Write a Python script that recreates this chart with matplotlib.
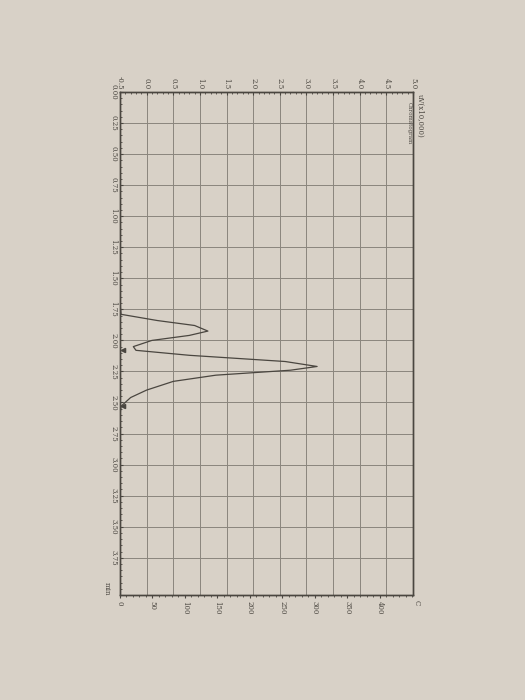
import numpy as np
import matplotlib.pyplot as plt

# chromatogram trace: retention time (min) vs signal (uV x10,000)
time_min = [1.70, 1.79, 1.84, 1.88, 1.925, 1.96, 2.00, 2.05, 2.08, 2.12, 2.17,
            2.21, 2.24, 2.28, 2.33, 2.40, 2.46, 2.53, 2.60]
signal = [-0.5, -0.48, 0.2, 0.9, 1.15, 0.8, 0.1, -0.25, -0.2, 0.8, 2.6,
          3.2, 2.7, 1.3, 0.5, 0.0, -0.3, -0.48, -0.5]
uv_ticks = [-0.5, 0.0, 0.5, 1.0, 1.5, 2.0, 2.5, 3.0, 3.5, 4.0, 4.5, 5.0]
time_ticks = [0.00, 0.25, 0.50, 0.75, 1.00, 1.25, 1.50, 1.75, 2.00, 2.25,
              2.50, 2.75, 3.00, 3.25, 3.50, 3.75]
temp_ticks = [0, 50, 100, 150, 200, 250, 300, 350, 400]
markers_t = [2.08, 2.53]

paper = '#d8d1c7'
ink = '#4a4640'
fig = plt.figure(figsize=(5.25, 7), dpi=100, facecolor=paper)
ax = fig.add_axes([120/525, 1-595/700, 293/525, 503/700], facecolor=paper)

# temperature axis along the bottom
ax2 = ax.twiny()
ax2.set_xlim(0, 451)
ax2.xaxis.set_ticks_position('bottom')
ax2.xaxis.set_label_position('bottom')
ax2.set_xticks(temp_ticks)
ax2.set_xticks(np.arange(0, 451, 10), minor=True)
ax2.set_xticklabels([str(v) for v in temp_ticks], rotation=-90, fontsize=5,
                    family='DejaVu Serif', color=ink)
ax2.tick_params(which='both', direction='out', colors=ink, length=2.5, pad=2)
ax2.tick_params(which='minor', length=1.5)
ax2.text(1.0, -0.01, 'C', transform=ax2.transAxes, rotation=-90, fontsize=5,
         family='DejaVu Serif', color=ink, ha='left', va='top')

ax.plot(signal, time_min, color=ink, lw=0.9)
for t in markers_t:
    ax.plot(-0.45, t, marker='<', ms=3, color=ink)

ax.set_xlim(-0.5, 5.0)
ax.set_ylim(4.05, 0)
ax.xaxis.tick_top()
ax.set_xticks(uv_ticks)
ax.set_yticks(time_ticks)
ax.set_xticks(np.arange(-0.5, 5.01, 0.1), minor=True)
ax.set_yticks(np.arange(0, 4.05, 0.05), minor=True)
ax.grid(True, which='major', color='#8a857d', lw=0.7)
ax.set_xticklabels([f'{v:.1f}' for v in uv_ticks], rotation=-90, fontsize=5,
                   family='DejaVu Serif', color=ink)
ax.set_yticklabels([f'{v:.2f}' for v in time_ticks], rotation=-90, fontsize=5,
                   family='DejaVu Serif', color=ink, va='center')
ax.tick_params(which='both', direction='in', colors=ink, length=2.5, pad=2)
ax.tick_params(which='minor', length=1.5)
for a in (ax, ax2):
    for s in a.spines.values():
        s.set_color(ink)
        s.set_linewidth(1.0)

ax.text(5.05, 0.02, 'uV(x10,000)', rotation=-90, fontsize=5, family='DejaVu Serif',
        color=ink, va='top', ha='left')
ax.text(4.93, 0.08, 'Chromatogram', rotation=-90, fontsize=4, family='DejaVu Serif',
        color=ink, va='top', ha='center')
ax.text(-0.75, 4.0, 'min', rotation=-90, fontsize=5, family='DejaVu Serif',
        color=ink, ha='center', va='center')

fig.savefig('out.png', dpi=100, facecolor=paper)
